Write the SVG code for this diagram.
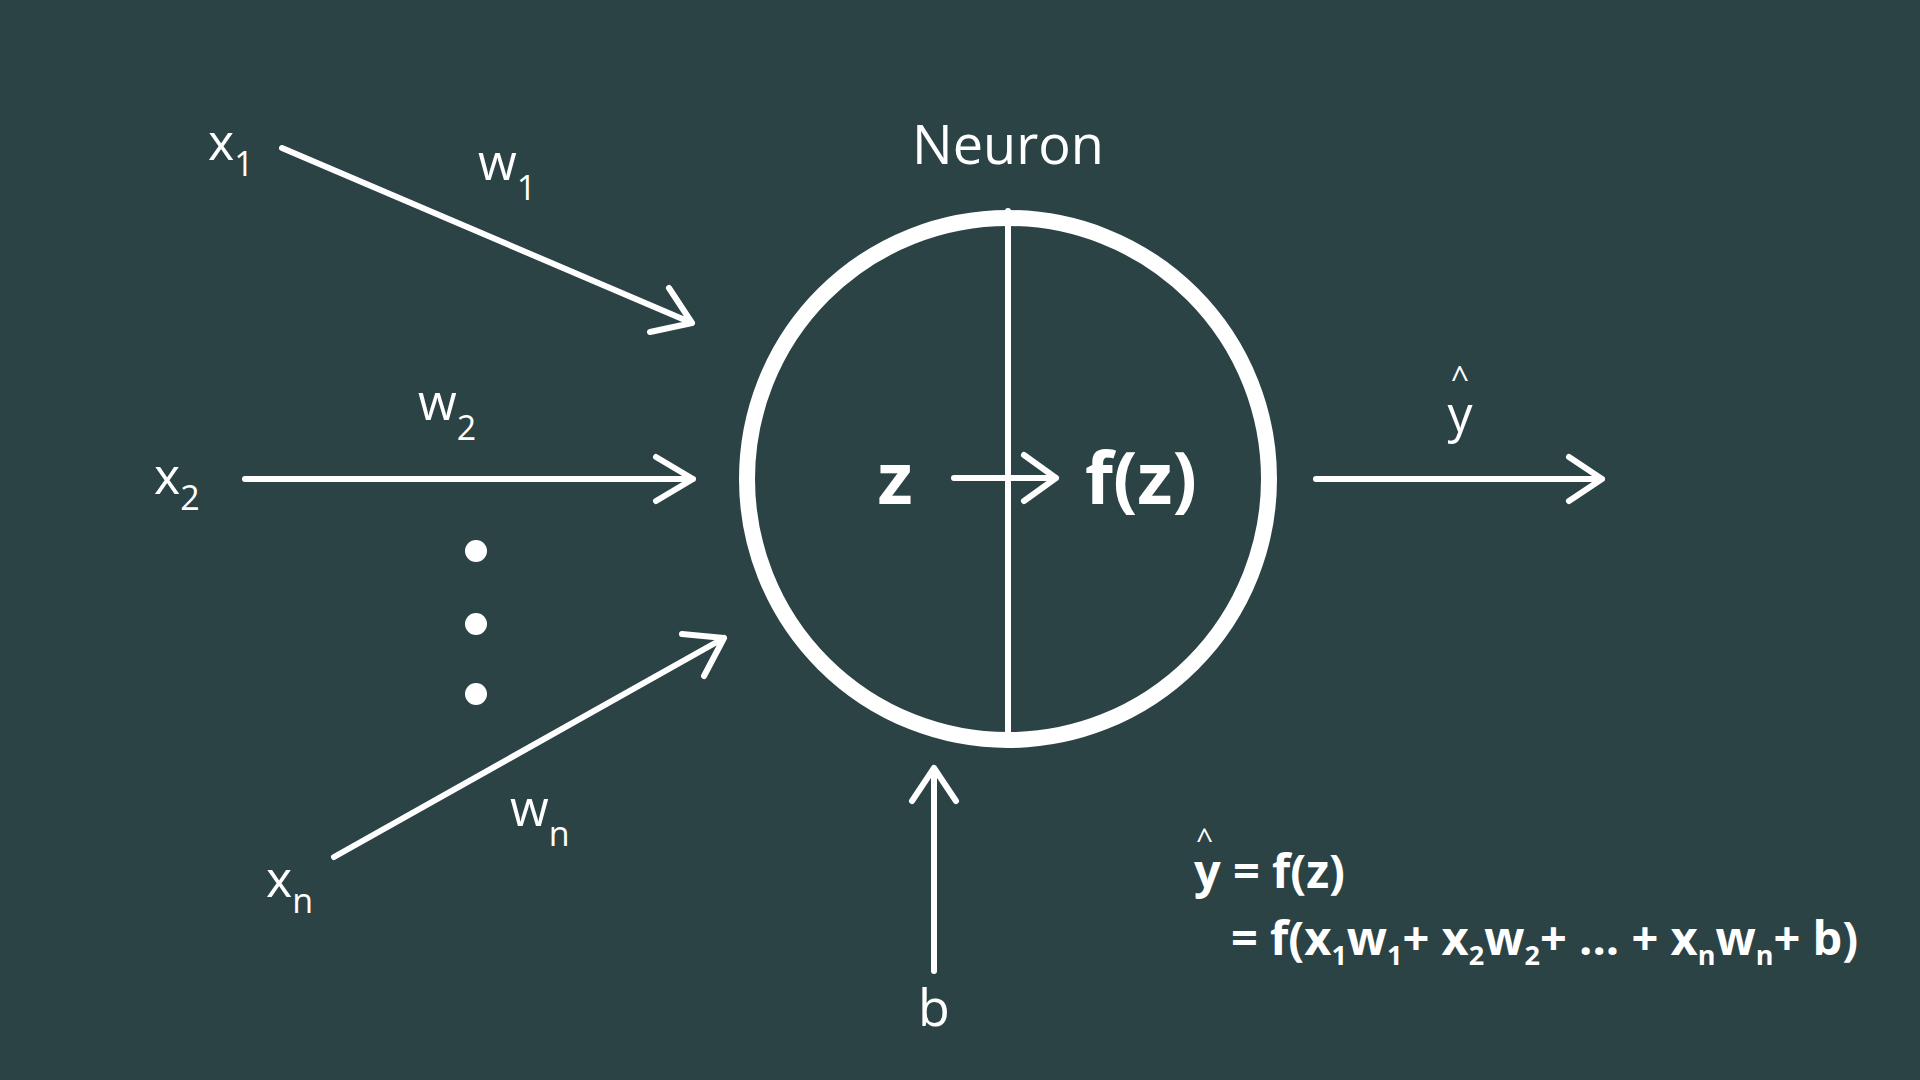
<svg xmlns="http://www.w3.org/2000/svg" width="1920" height="1080" viewBox="0 0 1920 1080">
<style>
.l{stroke:#fff;stroke-width:6;fill:none;stroke-linecap:round;stroke-linejoin:round}
.t{fill:#fff;font-family:"Open Sans","Noto Sans",sans-serif}
.b{font-weight:bold}
</style>
<rect width="1920" height="1080" fill="#2b4345"/>
<g id="neuron">
<circle cx="1008" cy="479" r="261" fill="none" stroke="#fff" stroke-width="16"/>
<line class="l" x1="1008" y1="211" x2="1008" y2="741"/>
<text class="t" x="1008" y="164" font-size="54" text-anchor="middle">Neuron</text>
<text class="t b" x="895" y="504" font-size="72" text-anchor="middle">z</text>
<text class="t b" x="1141" y="504" font-size="72" text-anchor="middle">f(z)</text>
</g>
<g id="inputs">
<text class="t" x="208" y="160" font-size="50">x<tspan font-size="34" dy="16">1</tspan></text>
<text class="t" x="154" y="494" font-size="50">x<tspan font-size="34" dy="16">2</tspan></text>
<text class="t" x="266" y="897" font-size="50">x<tspan font-size="34" dy="16">n</tspan></text>
<text class="t" x="478" y="180" font-size="50">w<tspan font-size="34" dy="20">1</tspan></text>
<text class="t" x="418" y="420" font-size="50">w<tspan font-size="34" dy="20">2</tspan></text>
<text class="t" x="510" y="826" font-size="50">w<tspan font-size="34" dy="20">n</tspan></text>
<circle cx="476" cy="551" r="11" fill="#fff"/>
<circle cx="476" cy="624" r="11" fill="#fff"/>
<circle cx="476" cy="694" r="11" fill="#fff"/>
<text class="t" x="934" y="1026" font-size="52" text-anchor="middle">b</text>
<text class="t" x="1460" y="432" font-size="50" text-anchor="middle">y</text>
<text class="t" x="1460" y="390" font-size="32" text-anchor="middle">^</text>
</g>
<g id="connectors">
<path class="l" d="M282 148L692 323M669 288L692 323L650 332"/>
<path class="l" d="M245 479H693M656 457L693 479L656 501"/>
<path class="l" d="M334 857L724 638M682 634L724 638L704 676"/>
<path class="l" d="M954 478H1056M1024 455L1056 478L1024 501"/>
<path class="l" d="M1316 479H1602M1569 457L1602 479L1569 501"/>
<path class="l" d="M934 971V768M912 801L934 768L956 801"/>
</g>
<g id="formula" class="t b" font-size="47">
<text x="1194" y="888">y = f(z)</text>
<text x="1196" y="850" font-size="30" font-weight="normal">^</text>
<text x="1231" y="955">= f(x<tspan font-size="27" dy="10">1</tspan><tspan dy="-10">w</tspan><tspan font-size="27" dy="10">1</tspan><tspan dy="-10">+ x</tspan><tspan font-size="27" dy="10">2</tspan><tspan dy="-10">w</tspan><tspan font-size="27" dy="10">2</tspan><tspan dy="-10">+ ... + x</tspan><tspan font-size="27" dy="10">n</tspan><tspan dy="-10">w</tspan><tspan font-size="27" dy="10">n</tspan><tspan dy="-10">+ b)</tspan></text>
</g>
</svg>
